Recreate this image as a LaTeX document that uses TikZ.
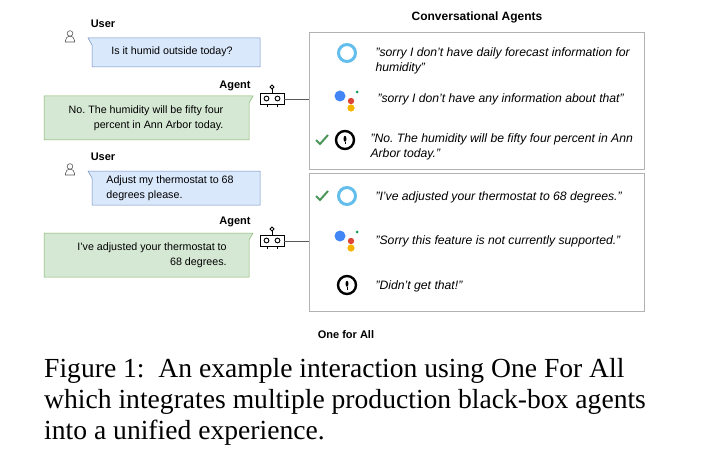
\documentclass[tikz,border=0pt]{standalone}
\usepackage{fontspec}
\setmainfont{Liberation Serif}
\setsansfont{Liberation Sans}
\frenchspacing
\begin{document}
\begin{tikzpicture}[x=1pt,y=-1pt,
  lbl/.style={font=\sffamily\bfseries\fontsize{11}{13}\selectfont},
  txt/.style={font=\sffamily\fontsize{10.7}{15}\selectfont,align=left},
  itx/.style={font=\sffamily\itshape\fontsize{12.2}{15.5}\selectfont,align=left,anchor=west},
  ubub/.style={fill={rgb,255:red,218;green,232;blue,252},draw={rgb,255:red,108;green,142;blue,191},line width=0.5pt},
  abub/.style={fill={rgb,255:red,213;green,232;blue,212},draw={rgb,255:red,130;green,179;blue,102},line width=0.5pt},
  panel/.style={draw=gray!60,line width=0.6pt},
  conn/.style={draw=gray!70!black,line width=0.5pt}]
\useasboundingbox (0,0) rectangle (703,457);
\newcommand{\usericon}[2]{\draw[gray!70!black,line width=0.6pt] (#1,#2-3.5) circle (2.8);
  \draw[gray!70!black,line width=0.6pt] (#1-4.5,#2+5) -- (#1-4.5,#2+3.5) arc[start angle=180,end angle=360,radius=4.5] -- (#1+4.5,#2+5) -- cycle;}
\newcommand{\roboticon}[2]{\begin{scope}[shift={(#1,#2)},line width=0.9pt]
  \draw (-12,-5) rectangle (12,6);
  \draw (-5.5,0.5) circle (2.4) (5.5,0.5) circle (2.4);
  \draw (0,-5) -- (0,-9); \draw (0,-11) circle (1.9);
  \draw (-5,6) -- (-5,9) (5,6) -- (5,9);\end{scope}}
\newcommand{\alexa}[2]{\draw[line width=3pt,color={rgb,255:red,100;green,190;blue,235}] (#1,#2) circle (8.5);}
\newcommand{\goog}[2]{\fill[color={rgb,255:red,66;green,133;blue,244}] (#1-5,#2-2) circle (5.5);
  \fill[color={rgb,255:red,219;green,68;blue,55}] (#1+6,#2+3) circle (3.2);
  \fill[color={rgb,255:red,244;green,180;blue,0}] (#1+6,#2+10) circle (3.6);
  \fill[color={rgb,255:red,15;green,157;blue,88}] (#1+12,#2-6) circle (1.5);}
\newcommand{\mic}[2]{\draw[line width=2.4pt] (#1,#2) circle (9);
  \fill (#1,#2-1.2) ellipse (1.5 and 3);
  \draw[line width=0.6pt] (#1,#2+2) -- (#1,#2+4.5);}
\newcommand{\chk}[2]{\draw[line width=2pt,color={rgb,255:red,76;green,150;blue,90}] (#1-6,#2) -- (#1-2,#2+4) -- (#1+6,#2-5);}

\node[lbl] (u1) at (103,24) {User};
\usericon{70}{37}
\draw[ubub] (88,38) -- (260,38) -- (260,67) -- (92,67) -- (92,45) -- cycle;
\node[txt] (t1) at (172,52) {Is it humid outside today?};

\node[lbl] (a1) at (235,86) {Agent};
\roboticon{272}{98}
\coordinate (r1) at (284,99);
\draw[abub] (44,96) -- (253,96) -- (249,103) -- (249,140) -- (44,140) -- cycle;
\node[txt,align=right] (t2) at (146,118) {No. The humidity will be fifty four\\percent in Ann Arbor today.};

\node[lbl] (u2) at (103,157) {User};
\usericon{70}{170}
\draw[ubub] (88,171) -- (260,171) -- (260,205) -- (92,205) -- (92,178) -- cycle;
\node[txt] (t3) at (170,188) {Adjust my thermostat to 68\\degrees please.};

\node[lbl] (a2) at (235,222) {Agent};
\roboticon{272}{240}
\coordinate (r2) at (284,241);
\draw[abub] (44,233) -- (253,233) -- (249,240) -- (249,277) -- (44,277) -- cycle;
\node[txt,align=right] (t4) at (152,255) {I've adjusted your thermostat to\\68 degrees.};

\node[lbl,font=\sffamily\bfseries\fontsize{12}{14}\selectfont] (ca) at (477,17) {Conversational Agents};
\node[panel,minimum width=335,minimum height=137,anchor=north west] (p1) at (309,32) {};
\node[panel,minimum width=335,minimum height=138,anchor=north west] (p2) at (309,173) {};
\draw[conn] (r1) -- (r1 -| p1.west);
\draw[conn] (r2) -- (r2 -| p2.west);

\alexa{347}{53}
\node[itx] at (372,61) {"sorry I don't have daily forecast information for\\humidity"};
\goog{345}{98}
\node[itx] at (374,99) {"sorry I don't have any information about that"};
\chk{322}{140}
\mic{345}{140}
\node[itx] at (367,147) {"No. The humidity will be fifty four percent in Ann\\Arbor today."};

\chk{322}{196}
\alexa{347}{196}
\node[itx] at (372,197) {"I've adjusted your thermostat to 68 degrees."};
\goog{345}{238}
\node[itx] at (372,241) {"Sorry this feature is not currently supported."};
\mic{347}{285}
\node[itx] at (372,286) {"Didn't get that!"};

\node[lbl] (ofa) at (346,335) {One for All};

\node[anchor=north west,align=left,font=\fontsize{27.6}{31}\selectfont,inner sep=0] (cap) at (44,358)
 {Figure 1:\ \ An example interaction using One For All\\which integrates multiple production black-box agents\\into a unified experience.};
\end{tikzpicture}
\end{document}
